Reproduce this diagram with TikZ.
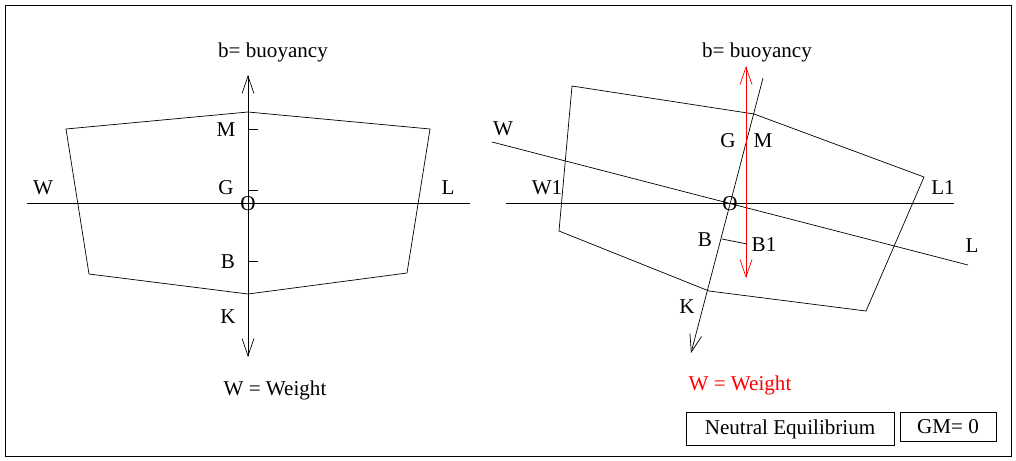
\documentclass[tikz,border=0pt]{standalone}
\usepackage{fontspec}
\setmainfont{Liberation Serif}
\usetikzlibrary{arrows.meta}

\tikzstyle{lbl} = [inner sep=1pt, font=\fontsize{12}{14}\selectfont]
\tikzstyle{box} = [draw=black, rectangle, inner sep=0pt, font=\fontsize{12}{14}\selectfont]
\tikzstyle{tip} = [{Straight Barb[length=3.5mm,width=2.4mm]}-{Straight Barb[length=3.5mm,width=2.4mm]}]

\begin{document}
\begin{tikzpicture}[x=0.02cm,y=-0.02cm,thin]
\useasboundingbox (0,0) rectangle (1016,460);
\draw (5,5) rectangle (1011,456);

% upright hull
\coordinate (a1) at (66,129);  \coordinate (a2) at (248,112);
\coordinate (a3) at (430,129); \coordinate (a4) at (407,273);
\coordinate (a5) at (248,294); \coordinate (a6) at (89,274);
\draw (a1) -- (a2) -- (a3) -- (a4) -- (a5) -- (a6) -- cycle;
\coordinate (wl1) at (27,203); \coordinate (wl2) at (470,203);
\draw (wl1) -- (wl2);
\coordinate (top1) at (248,75); \coordinate (bot1) at (248,357);
\draw[tip] (bot1) -- (top1);
\foreach \y/\n in {129/m, 190/g, 261/b}{
  \coordinate (\n1) at (248,\y);
  \draw (\n1) -- ++(10,0);
}
\node[lbl] (M) at (226,130) {M};
\node[lbl] (G) at (226,188) {G};
\node[lbl] (O) at (248,204) {O};
\node[lbl] (B) at (228,262) {B};
\node[lbl] (K) at (228,317) {K};
\node[lbl] (W) at (43,188) {W};
\node[lbl] (L) at (448,188) {L};
\node[lbl] (buoy) at (273,52) {b= buoyancy};
\node[lbl] (wt) at (275,390) {W = Weight};

% heeled hull
\coordinate (c1) at (572,86);  \coordinate (c2) at (754,114);
\coordinate (c3) at (924,177); \coordinate (c4) at (866,311);
\coordinate (c5) at (709,291); \coordinate (c6) at (559,231);
\draw (c1) -- (c2) -- (c3) -- (c4) -- (c5) -- (c6) -- cycle;
\coordinate (wl3) at (506,203); \coordinate (wl4) at (954,203);
\draw (wl3) -- (wl4);
\coordinate (tw1) at (492,142); \coordinate (tw2) at (968,265);
\draw (tw1) -- (tw2);
\coordinate (ax1) at (763,78); \coordinate (ax2) at (691,353);
\draw[-{Straight Barb[length=3.5mm,width=2.4mm]}] (ax1) -- (ax2);
\coordinate (rtop) at (746,66); \coordinate (rbot) at (746,278);
\draw[tip, red] (rbot) -- (rtop);
\coordinate (bb) at (722,239); \coordinate (bb1) at (747,244);
\draw (bb) -- (bb1);
\node[lbl] (W2) at (503,129) {W};
\node[lbl] (W1) at (547,188) {W1};
\node[lbl] (L1) at (943,188) {L1};
\node[lbl] (L2) at (972,246) {L};
\node[lbl] (G2) at (728,141) {G};
\node[lbl] (M2) at (763,141) {M};
\node[lbl] (O2) at (730,204) {O};
\node[lbl] (B2) at (705,240) {B};
\node[lbl] (B1) at (764,245) {B1};
\node[lbl] (K2) at (687,307) {K};
\node[lbl] (buoy2) at (757,52) {b= buoyancy};
\node[lbl, red] (wt2) at (740,385) {W = Weight};

\node[box, minimum width=208*0.02cm, minimum height=33*0.02cm] (neq) at (790,429) {Neutral Equilibrium};
\node[box, minimum width=96*0.02cm, minimum height=29*0.02cm] (gm) at (948,427) {GM= 0};
\end{tikzpicture}
\end{document}
